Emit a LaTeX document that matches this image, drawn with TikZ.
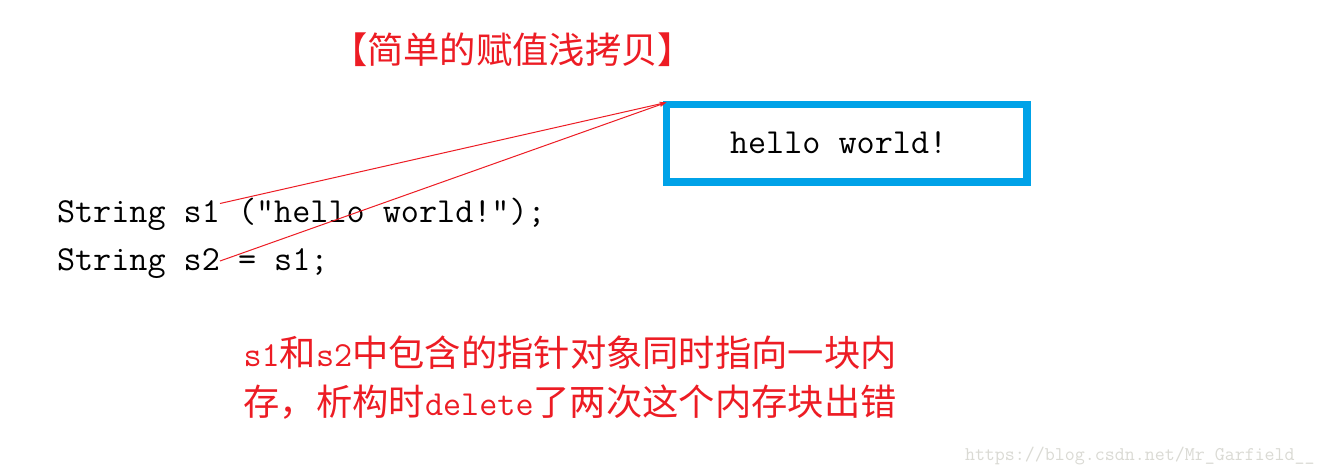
\documentclass[tikz,border=0pt]{standalone}
\usepackage{fontspec}
\newfontfamily\zhfont{Noto Sans CJK SC}
\usetikzlibrary{arrows.meta,calc}
\definecolor{redtxt}{RGB}{237,28,36}
\definecolor{boxblue}{RGB}{0,162,232}
\definecolor{wmgray}{RGB}{218,218,212}
\newcommand{\codefnt}{\ttfamily\fontsize{35.15pt}{40pt}\selectfont}
\newcommand{\zhbig}{\zhfont\fontsize{36.3pt}{40pt}\selectfont}
\tikzset{
  txt/.style={inner sep=0pt, outer sep=0pt, anchor=base west},
  code/.style={txt, font=\codefnt, text=black},
  note/.style={txt, font=\zhbig, text=redtxt},
  memory/.style={draw=boxblue, line width=7.5pt, minimum width=360.3pt, minimum height=77.3pt, inner sep=0pt},
  ptr/.style={draw=redtxt, line width=1pt, -{Stealth[length=7pt,width=4.5pt]}}
}
\begin{document}
\begin{tikzpicture}[x=1pt,y=-1pt]
\useasboundingbox[fill=white] (0,0) rectangle (1327,474);
% title
\node[txt, anchor=base, font=\zhbig, text=redtxt] (title) at (512.5,63) {【简单的赋值浅拷贝】};
% memory box
\node[memory] (box) at (846.85,143.35) {};
\node[code] (hw) at (730,153) {hello world!};
% code lines
\node[code] (l1) at (57,222) {String s1 ("hello world!");};
\node[code] (l2) at (57,270) {String s2 = s1;};
% pointer starts
\coordinate (p1) at (220,203.5);
\coordinate (p2) at (220,261);
\coordinate (tip) at ($(box.north west)+(3.5,1.5)$);
\draw[ptr] (p1) -- (tip);
\draw[ptr] (p2) -- (tip);
% note
\node[note] (n1) at (243.5,366.5) {{\codefnt s1}和{\codefnt s2}中包含的指针对象同时指向一块内};
\node[note] (n2) at (243.5,415) {存，析构时{\codefnt delete}了两次这个内存块出错};
% watermark
\node[txt, font=\ttfamily\fontsize{19.4pt}{22pt}\selectfont, text=wmgray] (wm) at (965,460) {https://blog.csdn.net/Mr\_Garfield\_\_};
\end{tikzpicture}
\end{document}
